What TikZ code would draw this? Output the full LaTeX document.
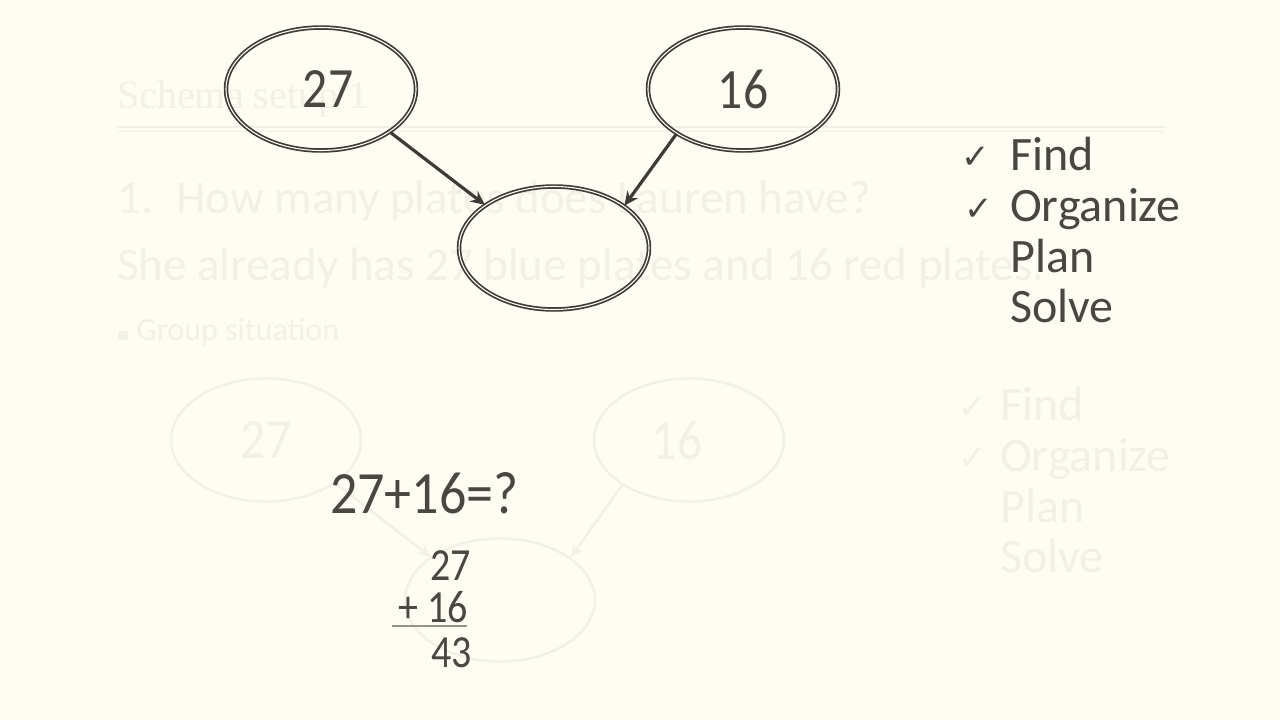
\documentclass[tikz,border=0pt]{standalone}
\usepackage{fontspec}
\setmainfont{Carlito}
\newfontfamily\numfont[FakeStretch=0.87]{Carlito}
\newfontfamily\eqfont[FakeStretch=0.9]{Carlito}
\newfontfamily\symfont{DejaVu Sans}
\newfontfamily\headfont{Liberation Serif}
\usetikzlibrary{shapes.geometric,arrows.meta}
\definecolor{bgc}{RGB}{253,253,244}
\definecolor{ghost}{RGB}{241,241,231}
\definecolor{ink}{RGB}{74,70,65}
\definecolor{linec}{RGB}{62,58,55}
\definecolor{rulec}{RGB}{150,146,140}
\tikzset{
  fgell/.style={ellipse, draw=linec, line width=1.7pt, double=bgc, double distance=1.1pt,
    minimum width=190pt, minimum height=123pt, inner sep=0pt, text=ink, font=\numfont\fontsize{57}{60}\selectfont},
  ghell/.style={ellipse, draw=ghost, line width=2.5pt,
    minimum width=190pt, minimum height=123pt, inner sep=0pt, text=ghost, font=\numfont\fontsize{57}{60}\selectfont},
  fgarrow/.style={draw=linec, line width=3.2pt, -{Stealth[length=14pt,width=13pt]}},
  gharrow/.style={draw=ghost, line width=2.6pt, -{Stealth[length=13pt,width=11pt]}},
  listtext/.style={anchor=base west, inner sep=0pt, font=\fontsize{48}{50}\selectfont},
  checkmark/.style={anchor=base west, inner sep=0pt, font=\symfont\fontsize{34}{36}\selectfont},
  ghtext/.style={anchor=base west, inner sep=0pt, text=ghost},
  sumtext/.style={anchor=base east, inner sep=0pt, text=ink, font=\numfont\fontsize{46}{48}\selectfont}
}
\begin{document}
\begin{tikzpicture}[x=1pt,y=-1pt]
\fill[bgc] (0,0) rectangle (1280,720);
\useasboundingbox (0,0) rectangle (1280,720);

% ---------- faded background slide ----------
\node[ghtext, font=\headfont\fontsize{40}{42}\selectfont] (gtitle) at (117,108) {Schema setup 1};
\draw[ghost, line width=1.5pt] (117,127) -- (1165,127);
\draw[ghost, line width=1pt] (117,131) -- (1165,131);
\node[ghtext, font=\fontsize{47}{50}\selectfont] (gq) at (117,213) {1.\enspace How many plates does Lauren have?};
\node[ghtext, font=\fontsize{47}{50}\selectfont] (gs) at (117,280) {She already has 27 blue plates and 16 red plates.};
\node[ghtext, font=\fontsize{32}{34}\selectfont] (gb) at (117,340) {{\symfont\fontsize{18}{20}\selectfont ▪}\ Group situation};

\node[ghell] (g27) at (266,440) {27};
\node[ghell] (g16) at (689,440) {\hspace*{-24pt}16};
\node[ghell] (gans) at (500,600) {};
\draw[gharrow] (g27.-32) -- (gans.148);
\draw[gharrow] (g16.-146) -- (gans.31);

\node[checkmark, text=ghost] (gc1) at (958,418) {✓};
\node[checkmark, text=ghost] (gc2) at (958,469) {✓};
\node[listtext, text=ghost] (gl1) at (1000,420) {Find};
\node[listtext, text=ghost] (gl2) at (1000,471) {Organize};
\node[listtext, text=ghost] (gl3) at (1000,522) {Plan};
\node[listtext, text=ghost] (gl4) at (1000,572) {Solve};

% ---------- foreground ----------
\node[fgell] (e27) at (321,89) {\hspace*{14pt}27};
\node[fgell] (e16) at (743,89) {16};
\node[fgell] (ans) at (554,248) {};
\draw[fgarrow] (e27.-32) -- (ans.148);
\draw[fgarrow] (e16.-146) -- (ans.31);

\node[checkmark, text=ink] (c1) at (961,168) {✓};
\node[checkmark, text=ink] (c2) at (964,220) {✓};
\node[listtext, text=ink] (l1) at (1010,170) {Find};
\node[listtext, text=ink] (l2) at (1010,221) {Organize};
\node[listtext, text=ink] (l3) at (1010,272) {Plan};
\node[listtext, text=ink] (l4) at (1010,322) {Solve};

\node[anchor=base west, inner sep=0pt, text=ink, font=\eqfont\fontsize{60}{62}\selectfont] (eq) at (330,513) {27+16=?};
\node[sumtext] (s1) at (471,580) {27};
\node[sumtext] (s2) at (468,622) {+ 16};
\node[sumtext] (s3) at (472,667) {43};
\draw[rulec, line width=1.5pt] (392,626) -- (467,626);
\end{tikzpicture}
\end{document}
